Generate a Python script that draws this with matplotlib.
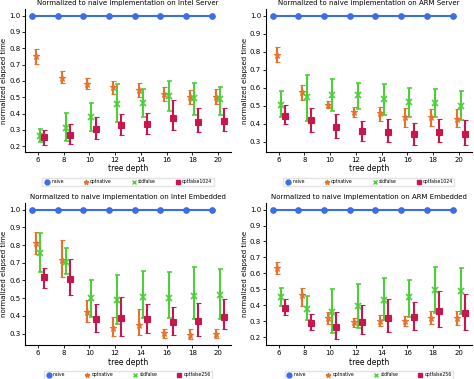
import numpy as np
import matplotlib.pyplot as plt

depths = [6, 8, 10, 12, 14, 16, 18, 20]
methods = ['naive', 'optnative', 'stdfalse', 'optfalse']
colors = ['#3b6ee6', '#e8722c', '#4ccf3a', '#c8174c']
markers = ['o', '*', 'x', 's']

# Intel Server
is_naive = [1.0] * 8
is_opt = [0.751, 0.619, 0.581, 0.561, 0.545, 0.518, 0.504, 0.504]
is_opt_lo = [0.706, 0.585, 0.549, 0.520, 0.504, 0.476, 0.457, 0.457]
is_opt_hi = [0.798, 0.662, 0.619, 0.597, 0.587, 0.565, 0.545, 0.551]
is_std = [0.265, 0.312, 0.378, 0.457, 0.464, 0.510, 0.492, 0.488]
is_std_lo = [0.223, 0.229, 0.291, 0.348, 0.378, 0.415, 0.393, 0.391]
is_std_hi = [0.308, 0.403, 0.464, 0.578, 0.549, 0.597, 0.589, 0.565]
is_of = [0.255, 0.271, 0.306, 0.332, 0.336, 0.370, 0.350, 0.354]
is_of_lo = [0.204, 0.215, 0.241, 0.269, 0.275, 0.296, 0.285, 0.291]
is_of_hi = [0.298, 0.336, 0.377, 0.399, 0.403, 0.484, 0.431, 0.433]

# ARM Server
as_naive = [1.0] * 8
as_opt = [0.779, 0.576, 0.505, 0.466, 0.457, 0.438, 0.438, 0.425]
as_opt_lo = [0.742, 0.532, 0.484, 0.438, 0.416, 0.383, 0.389, 0.383]
as_opt_hi = [0.823, 0.615, 0.527, 0.494, 0.494, 0.484, 0.479, 0.479]
as_std = [0.503, 0.545, 0.556, 0.556, 0.538, 0.521, 0.516, 0.497]
as_std_lo = [0.435, 0.416, 0.471, 0.479, 0.448, 0.438, 0.435, 0.420]
as_std_hi = [0.582, 0.669, 0.646, 0.626, 0.619, 0.597, 0.593, 0.580]
as_of = [0.444, 0.420, 0.379, 0.359, 0.352, 0.341, 0.355, 0.341]
as_of_lo = [0.398, 0.354, 0.317, 0.304, 0.300, 0.280, 0.300, 0.278]
as_of_hi = [0.501, 0.484, 0.453, 0.416, 0.427, 0.405, 0.425, 0.420]

# Intel Embedded
ie_naive = [1.0] * 8
ie_opt = [0.809, 0.716, 0.423, 0.334, 0.349, 0.304, 0.295, 0.300]
ie_opt_lo = [0.750, 0.618, 0.364, 0.286, 0.295, 0.276, 0.271, 0.275]
ie_opt_hi = [0.874, 0.827, 0.488, 0.393, 0.442, 0.328, 0.327, 0.327]
ie_std = [0.753, 0.707, 0.499, 0.490, 0.508, 0.503, 0.512, 0.516]
ie_std_lo = [0.646, 0.636, 0.395, 0.356, 0.388, 0.390, 0.382, 0.382]
ie_std_hi = [0.870, 0.785, 0.601, 0.629, 0.651, 0.649, 0.675, 0.666]
ie_of = [0.620, 0.609, 0.382, 0.391, 0.382, 0.364, 0.369, 0.395]
ie_of_lo = [0.555, 0.519, 0.308, 0.289, 0.302, 0.295, 0.288, 0.327]
ie_of_hi = [0.673, 0.720, 0.469, 0.508, 0.469, 0.453, 0.475, 0.495]

# ARM Embedded
ae_naive = [1.0] * 8
ae_opt = [0.632, 0.466, 0.320, 0.295, 0.301, 0.301, 0.320, 0.318]
ae_opt_lo = [0.595, 0.397, 0.285, 0.266, 0.270, 0.270, 0.279, 0.274]
ae_opt_hi = [0.672, 0.505, 0.356, 0.322, 0.337, 0.335, 0.364, 0.362]
ae_std = [0.449, 0.374, 0.360, 0.395, 0.434, 0.449, 0.497, 0.486]
ae_std_lo = [0.395, 0.304, 0.225, 0.254, 0.306, 0.328, 0.349, 0.343]
ae_std_hi = [0.511, 0.457, 0.499, 0.536, 0.568, 0.557, 0.640, 0.636]
ae_of = [0.380, 0.291, 0.266, 0.293, 0.320, 0.326, 0.364, 0.349]
ae_of_lo = [0.339, 0.245, 0.189, 0.220, 0.231, 0.245, 0.262, 0.243]
ae_of_hi = [0.439, 0.345, 0.355, 0.401, 0.441, 0.422, 0.489, 0.470]

panels = [
    ('Normalized to naive implementation on Intel Server', 'optfalse1024',
     [(is_naive, is_naive, is_naive), (is_opt, is_opt_lo, is_opt_hi),
      (is_std, is_std_lo, is_std_hi), (is_of, is_of_lo, is_of_hi)]),
    ('Normalized to naive implementation on ARM Server', 'optfalse1024',
     [(as_naive, as_naive, as_naive), (as_opt, as_opt_lo, as_opt_hi),
      (as_std, as_std_lo, as_std_hi), (as_of, as_of_lo, as_of_hi)]),
    ('Normalized to naive implementation on Intel Embedded', 'optfalse256',
     [(ie_naive, ie_naive, ie_naive), (ie_opt, ie_opt_lo, ie_opt_hi),
      (ie_std, ie_std_lo, ie_std_hi), (ie_of, ie_of_lo, ie_of_hi)]),
    ('Normalized to naive implementation on ARM Embedded', 'optfalse256',
     [(ae_naive, ae_naive, ae_naive), (ae_opt, ae_opt_lo, ae_opt_hi),
      (ae_std, ae_std_lo, ae_std_hi), (ae_of, ae_of_lo, ae_of_hi)]),
]

offsets = [-0.24, -0.08, 0.08, 0.24]
msizes = [4, 5, 4, 4.5]

fig = plt.figure(figsize=(4.74, 3.79), dpi=100)
boxes = [
    [0.053, 0.599, 0.434, 0.377],
    [0.561, 0.599, 0.434, 0.377],
    [0.053, 0.089, 0.434, 0.375],
    [0.561, 0.089, 0.434, 0.375],
]

x = np.arange(len(depths))
for box, (title, last_label, series) in zip(boxes, panels):
    ax = fig.add_axes(box)
    handles = []
    labels = methods[:3] + [last_label]
    for i, (mean, lo, hi) in enumerate(series):
        mean = np.array(mean)
        yerr = [mean - np.array(lo), np.array(hi) - mean]
        ls = '-' if i == 0 else 'none'
        ax.errorbar(x + offsets[i], mean, yerr=yerr, color=colors[i],
                    marker=markers[i], ms=msizes[i], ls=ls, lw=1.5,
                    elinewidth=1.5, capsize=1.8, capthick=1.2,
                    mew=1.2 if markers[i] == 'x' else 0.8)
        h, = ax.plot([], [], ls='none', marker=markers[i], color=colors[i], ms=3.5,
                     label=labels[i])
        handles.append(h)
    ax.set_xlim(-0.5, 7.5)
    ax.set_xticks(x)
    ax.set_xticklabels(depths)
    ax.tick_params(labelsize=5, length=2, width=0.6, pad=1.5)
    ax.set_xlabel('tree depth', fontsize=5.5, labelpad=1)
    ax.set_ylabel('normalized elapsed time', fontsize=5, labelpad=1.5)
    ax.set_title(title, fontsize=5, pad=3)
    for s in ['top', 'right']:
        ax.spines[s].set_visible(False)
    for s in ['left', 'bottom']:
        ax.spines[s].set_linewidth(0.8)
    ax.legend(handles=handles, loc='upper center', bbox_to_anchor=(0.5, -0.165),
              ncol=4, fontsize=3.3, frameon=True, borderpad=0.3,
              handletextpad=0.2, columnspacing=4, handlelength=1.5,
              edgecolor='#dddddd', fancybox=False)

plt.savefig('out.png', dpi=100)
